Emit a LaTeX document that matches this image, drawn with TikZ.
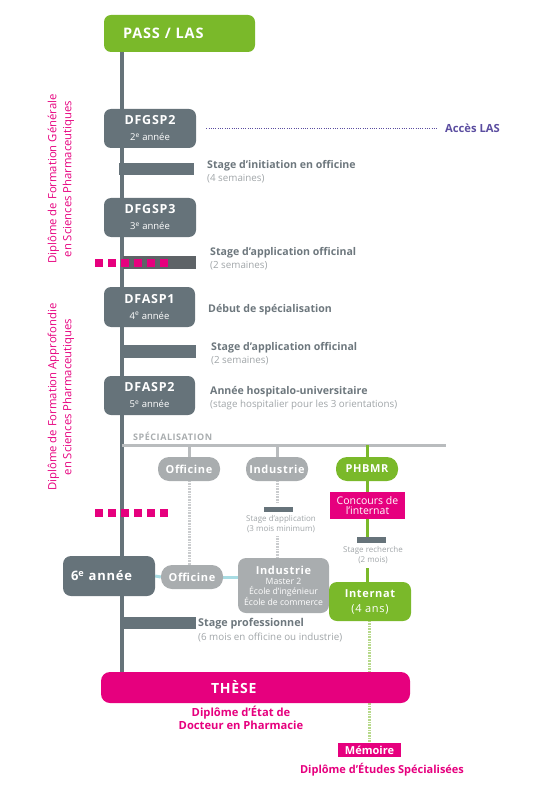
\documentclass[tikz,border=0pt]{standalone}
\usepackage{fontspec}
\setmainfont{Open Sans}
\setsansfont{Open Sans}
\usetikzlibrary{positioning}

\definecolor{slate}{HTML}{66737A}
\definecolor{darkbar}{HTML}{5E6367}
\definecolor{pale}{HTML}{A9ADAF}
\definecolor{paleline}{HTML}{B9BCBE}
\definecolor{stripegrey}{HTML}{CACCCE}
\definecolor{leaf}{HTML}{7AB92A}
\definecolor{leafdash}{HTML}{B7D98B}
\definecolor{rose}{HTML}{E6007E}
\definecolor{violet}{HTML}{5B4DA0}
\definecolor{sky}{HTML}{A8DCE3}
\definecolor{txtgrey}{HTML}{6D777D}
\definecolor{subgrey}{HTML}{A0A5A8}

\newcommand{\fsz}[2]{\fontsize{#1}{#2}\selectfont}
\newcommand{\wide}{\addfontfeature{LetterSpace=6}}
\newcommand{\subtxt}[1]{{\color{subgrey}\mdseries\fsz{9.8}{13}#1}}

\pgfdeclarelayer{background}
\pgfsetlayers{background,main}

\begin{document}
\begin{tikzpicture}[x=1pt,y=-1pt,
    year node/.style={rectangle,rounded corners=7pt,fill=slate,text=white,minimum width=92pt,minimum height=39pt,inner sep=0pt,align=center,font=\fsz{9.5}{16}},
    pill node/.style={rectangle,rounded corners=11pt,fill=pale,text=white,minimum width=62pt,minimum height=24pt,inner sep=0pt,font=\bfseries\fsz{11}{12}\wide},
    bar node/.style={rectangle,fill=slate,minimum width=75pt,minimum height=12pt,inner sep=0pt},
    square node/.style={rectangle,fill=rose,minimum size=8pt,inner sep=0pt},
    stage text/.style={anchor=west,align=left,inner sep=0pt,text=txtgrey,font=\bfseries\fsz{10.6}{13}},
    small text/.style={align=center,inner sep=0pt,text=subgrey,font=\fsz{8}{10.5}},
    side text/.style={rotate=90,align=center,inner sep=0pt,text=rose,font=\fsz{11.3}{15}},
    spine/.style={draw=slate,line width=4pt},
    spec line/.style={draw=paleline,line width=3pt},
    leaf line/.style={draw=leaf,line width=3pt},
    stripe line/.style={draw=stripegrey,line width=3pt,dash pattern=on 0.8pt off 0.8pt},
    leafdash line/.style={draw=leafdash,line width=3pt,dash pattern=on 0.8pt off 0.8pt},
    sky line/.style={draw=sky,line width=3pt},
    las line/.style={draw=violet,line width=1.2pt,dash pattern=on 1pt off 1.3pt}]
\useasboundingbox (0,0) rectangle (556,786);

% tronc commun
\node[year node,fill=leaf,align=left,text width=113pt,inner xsep=19pt,minimum width=151pt,minimum height=37pt,font=\bfseries\fsz{14.5}{16}\wide] (pass) at (179.5,33.5) {PASS / LAS};
\node[year node] (dfgsp2) at (150,128.5) {{\bfseries\fsz{12.5}{12}\wide DFGSP2}\\2\textsuperscript{e} année};
\node[year node] (dfgsp3) at (150,217.5) {{\bfseries\fsz{12.5}{12}\wide DFGSP3}\\3\textsuperscript{e} année};
\node[year node,minimum width=91pt,minimum height=40pt] (dfasp1) at (149.5,307) {{\bfseries\fsz{12.5}{12}\wide DFASP1}\\4\textsuperscript{e} année};
\node[year node,minimum width=91pt] (dfasp2) at (149.5,395.5) {{\bfseries\fsz{12.5}{12}\wide DFASP2}\\5\textsuperscript{e} année};

\node[side text] (dfgs) at (61,179) {Diplôme de Formation Générale\\en Sciences Pharmaceutiques};
\node[side text] (dfas) at (61,397) {Diplôme de Formation Approfondie\\en Sciences Pharmaceutiques};

% stages
\node[bar node] (stage1) at (156.5,169) {};
\node[bar node,fill=darkbar,minimum width=73pt,minimum height=13pt] (stage2) at (159.5,262.5) {};
\node[bar node,minimum height=13pt] (stage3) at (158.5,351.5) {};
\node[bar node,minimum width=76pt] (stagepro) at (158,623) {};
\node[bar node,minimum width=29pt,minimum height=5pt] (stageind) at (278.5,509.5) {};
\node[bar node,minimum width=29pt,minimum height=6pt] (stagerech) at (371.5,540) {};
\foreach \i in {0,...,5} {
  \node[square node] (sqa\i) at (99+13*\i,263) {};
  \node[square node] (sqb\i) at (99+13*\i,512.5) {};
}

\node[stage text] (txt1) at (207,172) {Stage d’initiation en officine\\\subtxt{(4 semaines)}};
\node[stage text] (txt2) at (210,259) {Stage d’application officinal\\\subtxt{(2 semaines)}};
\node[stage text] (txt3) at (208,310) {Début de spécialisation};
\node[stage text] (txt4) at (211,354) {Stage d’application officinal\\\subtxt{(2 semaines)}};
\node[stage text] (txt5) at (210,398) {Année hospitalo-universitaire\\\subtxt{(stage hospitalier pour les 3 orientations)}};
\node[inner sep=0pt,anchor=west,text=violet,font=\bfseries\fsz{11.2}{12}] (las) at (445,128.5) {Accès LAS};

% specialisation
\node[inner sep=0pt,anchor=west,text=pale,font=\bfseries\fsz{9}{9}\wide] (spec) at (133,436) {SPÉCIALISATION};
\coordinate (specL) at (122,445);
\coordinate (specR) at (446,445);
\node[pill node] (offi1) at (189,469) {Officine};
\node[pill node] (indu1) at (277,469) {Industrie};
\node[pill node,fill=leaf] (phbmr) at (367,469) {PHBMR};
\node[rectangle,fill=rose,text=white,minimum width=75pt,minimum height=27pt,inner sep=0pt,align=center,font=\fsz{10.5}{10}] (concours) at (367.5,505.5) {Concours de\\l’internat};
\node[small text] (appl) at (281,524) {Stage d’application\\(3 mois minimum)};
\node[small text] (rech) at (373,555) {Stage recherche\\(2 mois)};

% 6e annee
\node[year node,minimum height=40pt,align=left,text width=76pt,inner xsep=8pt,rounded corners=8pt,font=\bfseries\fsz{13}{15}\wide] (sixth) at (109,576) {6\textsuperscript{e} année};
\node[pill node] (offi2) at (192,577) {Officine};
\node[year node,fill=pale,minimum width=91pt,minimum height=55pt,rounded corners=8pt,font=\fsz{8.7}{10}] (indu2) at (283.5,585.5) {{\bfseries\fsz{11}{13}\wide Industrie}\\Master 2\\École d’ingénieur\\École de commerce};
\node[year node,fill=leaf,minimum width=82pt,rounded corners=8pt,font=\bfseries\fsz{11}{15}\wide] (internat) at (370,601.5) {Internat\\{\mdseries(4 ans)}};
\node[stage text,font=\bfseries\fsz{10.8}{13.5}] (txtpro) at (198,630) {Stage professionnel\\\subtxt{(6 mois en officine ou industrie)}};

% diplomes
\node[rectangle,rounded corners=9pt,fill=rose,text=white,minimum height=31pt,inner ysep=0pt,inner xsep=110pt,text width=89pt,align=left,font=\bfseries\fsz{14}{15}\wide] (these) at (255.5,687.5) {THÈSE};
\node[align=center,inner sep=0pt,text=rose,font=\bfseries\fsz{11.2}{12.5}] (dedoc) at (241,718) {Diplôme d’État de\\Docteur en Pharmacie};
\node[rectangle,fill=rose,text=white,minimum width=63pt,minimum height=14pt,inner sep=0pt,font=\bfseries\fsz{11}{11}] (memoire) at (369.5,750) {Mémoire};
\node[inner sep=0pt,text=rose,font=\bfseries\fsz{11}{11}] (des) at (382,770) {Diplôme d’Études Spécialisées};

\coordinate (spineT) at (122,52);
\coordinate (spineB) at (122,672);
\begin{pgfonlayer}{background}
\draw[spine] (spineT) -- (spineB);
\draw[las line] ([xshift=10pt]dfgsp2.east) -- ([xshift=-7pt]las.west);
\draw[spec line] (specL) -- (specR);
\draw[spec line] (offi1.north |- specL) -- (offi1.north);
\draw[spec line] (indu1.north |- specL) -- (indu1.north);
\draw[leaf line] (phbmr.north |- specL) -- (phbmr.north);
\draw[leaf line] (phbmr.south) -- (concours.north -| phbmr.south);
\draw[leaf line] (concours.south -| phbmr.south) -- (stagerech.north -| phbmr.south);
\draw[leaf line,shorten <=4pt] (rech.south -| phbmr.south) -- (internat.north -| phbmr.south);
\draw[stripe line] (offi1.south) -- (offi1.south |- offi2.north);
\draw[stripe line,shorten >=4pt] (indu1.south) -- (indu1.south |- stageind.north);
\draw[stripe line,shorten <=3pt] (appl.south -| indu1.south) -- (indu2.north -| indu1.south);
\draw[sky line] (sixth.east) -- (offi2.west);
\draw[sky line] (offi2.east) -- (offi2.east -| indu2.west);
\draw[leafdash line] (internat.south -| memoire.north) -- (memoire.north);
\end{pgfonlayer}
\end{tikzpicture}
\end{document}
